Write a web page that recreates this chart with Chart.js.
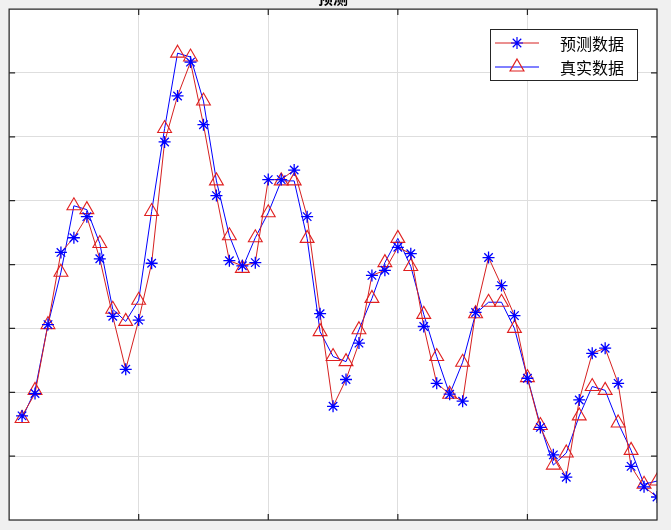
<!DOCTYPE html>
<html><head><meta charset="utf-8">
<script src="https://cdn.jsdelivr.net/npm/chart.js@4"></script>
<style>html,body{margin:0;padding:0;background:#f0f0f0;}canvas{display:block;}</style>
</head><body>
<div style="width:671px;height:530px"><canvas id="c" width="671" height="530"></canvas></div>
<script>
const xs = Array.from({length:50},(_, i)=>i+1);
const predicted = [1.63,1.98,3.06,4.19,4.42,4.75,4.09,3.19,2.36,3.13,4.02,5.92,6.64,7.17,6.19,5.08,4.06,3.98,4.03,5.33,5.33,5.48,4.75,3.23,1.78,2.20,2.77,3.83,3.91,4.27,4.17,3.03,2.14,1.97,1.86,3.25,4.11,3.67,3.20,2.22,1.45,1.02,0.67,1.88,2.61,2.69,2.14,0.84,0.52,0.36];
const actual = [1.59,2.03,3.06,3.88,4.92,4.86,4.33,3.30,3.11,3.44,4.83,6.13,7.31,7.25,6.56,5.31,4.45,3.94,4.42,4.81,5.31,5.31,4.41,2.95,2.56,2.48,2.98,3.47,4.03,4.41,3.97,3.22,2.56,1.97,2.47,3.23,3.41,3.41,3.00,2.23,1.48,0.86,1.05,1.63,2.09,2.03,1.52,1.09,0.56,0.61];
const labels = ['预测数据','真实数据'];
const titleText = '预测';

const frame = {
  id:'frame',
  afterDraw(ch){
    const {ctx, chartArea:a} = ch;
    ctx.save();
    ctx.strokeStyle='#262626'; ctx.lineWidth=1.2;
    ctx.strokeRect(a.left,a.top,a.right-a.left,a.bottom-a.top);
    ctx.beginPath();
    const xsOf=[10,20,30,40].map(v=>ch.scales.x.getPixelForValue(v));
    xsOf.forEach(px=>{ctx.moveTo(px,a.bottom);ctx.lineTo(px,a.bottom-6);ctx.moveTo(px,a.top);ctx.lineTo(px,a.top+6);});
    for(let v=1;v<8;v++){const py=ch.scales.y.getPixelForValue(v);ctx.moveTo(a.left,py);ctx.lineTo(a.left+6,py);ctx.moveTo(a.right,py);ctx.lineTo(a.right-6,py);}
    ctx.stroke();
    ctx.fillStyle='#000'; ctx.font='bold 15px "Noto Sans CJK SC"'; ctx.textAlign='center'; ctx.textBaseline='middle';
    ctx.fillText(titleText,(a.left+a.right)/2,-2);
    const lx=490, ly=29, lw=147, lh=51;
    ctx.fillStyle='#fff'; ctx.fillRect(lx,ly,lw,lh);
    ctx.strokeStyle='#262626'; ctx.lineWidth=1; ctx.strokeRect(lx+0.5,ly+0.5,lw,lh);
    const rows=[{c:'#d62020',m:'star',mc:'#0000ff',r:6},{c:'#0000ff',m:'triangle',mc:'#e02020',r:8}];
    rows.forEach((r,i)=>{
      const y=ly+14+i*24;
      ctx.strokeStyle=r.c; ctx.lineWidth=1; ctx.beginPath(); ctx.moveTo(lx+5,y); ctx.lineTo(lx+49,y); ctx.stroke();
      ctx.strokeStyle=r.mc; ctx.fillStyle='rgba(0,0,0,0)'; ctx.lineWidth=1.2;
      Chart.helpers.drawPoint(ctx,{pointStyle:r.m,radius:r.r,rotation:0,borderWidth:1.2},lx+27,y);
      ctx.fillStyle='#000'; ctx.font='16px "Noto Sans CJK SC"'; ctx.textAlign='left';
      ctx.fillText(labels[i],lx+70,y+1);
    });
    ctx.restore();
  }
};
const bg={id:'bg',beforeDraw(ch){const {ctx,chartArea:a}=ch;ctx.save();ctx.fillStyle='#fff';ctx.fillRect(a.left,a.top,a.right-a.left,a.bottom-a.top);ctx.restore();}};

new Chart(document.getElementById('c'),{
  type:'line',
  data:{datasets:[
    {label:labels[0],data:xs.map((x,i)=>({x,y:predicted[i]})),borderColor:'#d62020',borderWidth:1,pointStyle:'star',pointRadius:6,pointBorderColor:'#0000ff',pointBorderWidth:1.3,pointBackgroundColor:'#0000ff',tension:0},
    {label:labels[1],data:xs.map((x,i)=>({x,y:actual[i]})),borderColor:'#0000ff',borderWidth:1,pointStyle:'triangle',pointRadius:8,pointBorderColor:'#e02020',pointBorderWidth:1.1,pointBackgroundColor:'rgba(0,0,0,0)',tension:0}
  ]},
  options:{
    responsive:false,animation:false,devicePixelRatio:1,
    layout:{padding:{left:8,right:14,top:8,bottom:10}},
    plugins:{legend:{display:false},tooltip:{enabled:false}},
    scales:{
      x:{type:'linear',min:0,max:50,ticks:{display:false,stepSize:10},grid:{color:'#dedede',drawTicks:false},border:{display:false}},
      y:{min:0,max:8,ticks:{display:false,stepSize:1},grid:{color:'#dedede',drawTicks:false},border:{display:false}}
    }
  },
  plugins:[bg,frame]
});
</script>
</body></html>
